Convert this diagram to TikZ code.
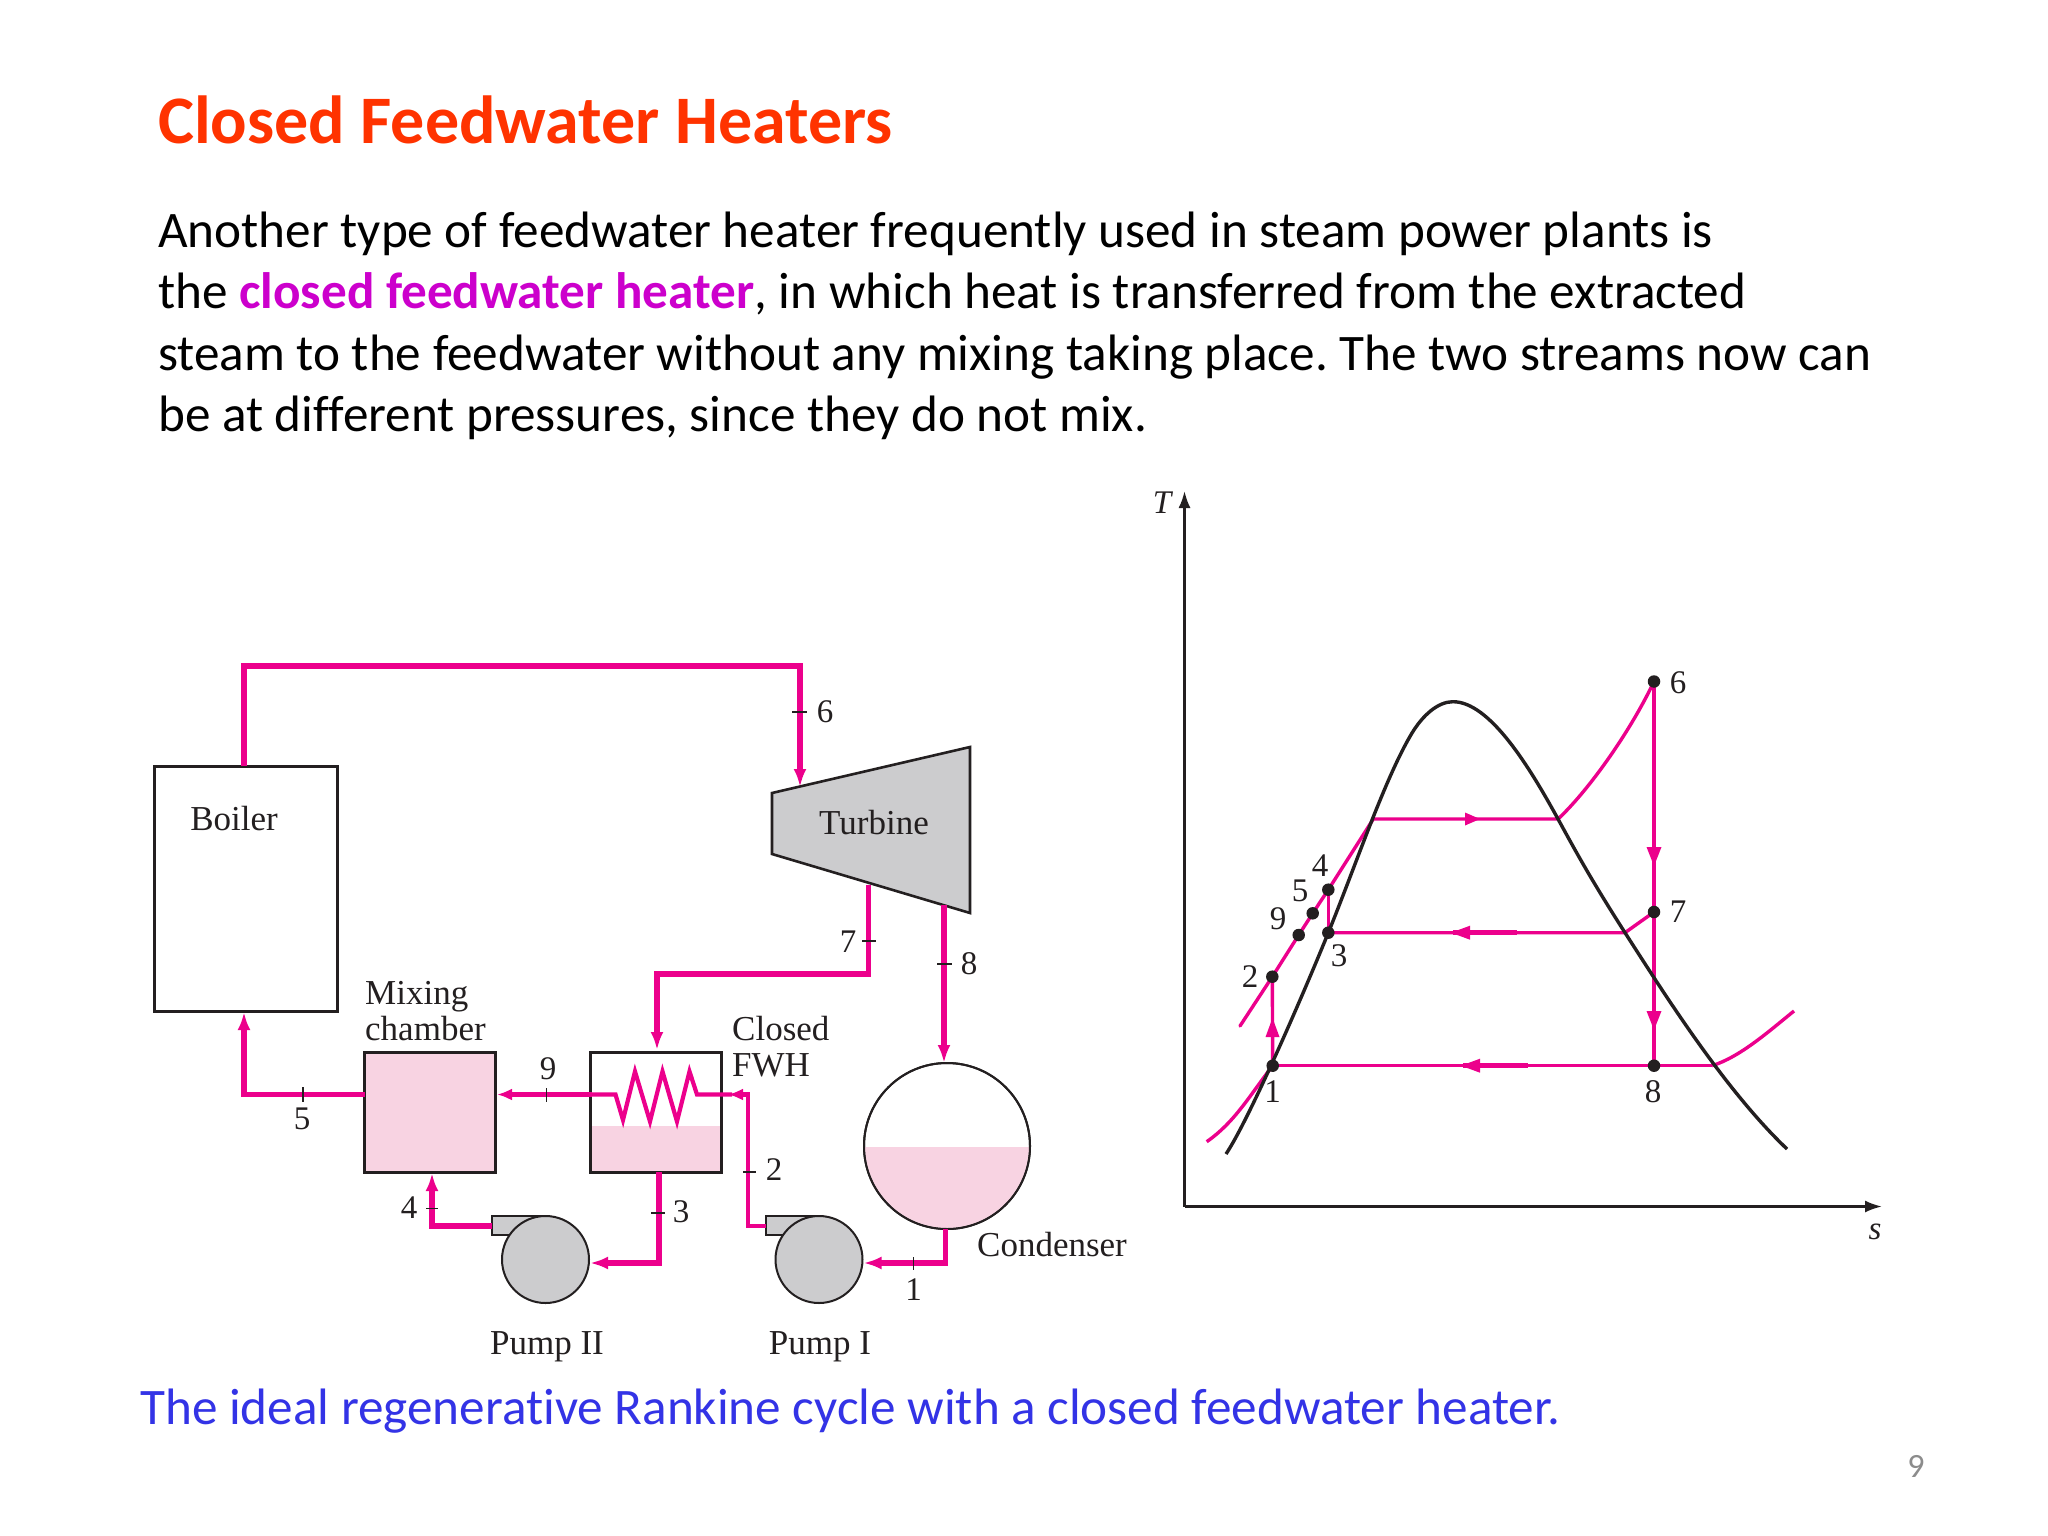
\documentclass[tikz,border=0pt]{standalone}
\usepackage{fontspec}
\usetikzlibrary{arrows.meta}
\newfontfamily\bodyfont[Ligatures=NoCommon]{Carlito}
\newfontfamily\figfont{Liberation Serif}
\definecolor{pipe}{HTML}{EC008C}
\definecolor{liquid}{HTML}{F8D3E2}
\definecolor{metal}{HTML}{CCCCCE}
\definecolor{ink}{HTML}{231F20}
\definecolor{titlered}{HTML}{FF3300}
\definecolor{hilite}{HTML}{CC00CC}
\definecolor{capblue}{HTML}{3333E6}
\definecolor{pagegray}{HTML}{8C8C8C}
\tikzset{
  x=1pt,y=-1pt,
  titletext/.style={anchor=base west,inner sep=0,font=\bodyfont\bfseries\fontsize{68}{80}\selectfont,text=titlered},
  bodytext/.style={anchor=base west,inner sep=0,font=\bodyfont\frenchspacing\fontsize{51.2}{60}\selectfont,text=black},
  captext/.style={anchor=base west,inner sep=0,font=\bodyfont\frenchspacing\fontsize{51.2}{60}\selectfont,text=capblue},
  lab/.style={inner sep=0,font=\figfont\fontsize{35}{36.5}\selectfont,text=ink,align=left},
  num/.style={inner sep=0,font=\figfont\fontsize{33}{38}\selectfont,text=ink},
  axlab/.style={inner sep=0,font=\figfont\itshape\fontsize{33}{38}\selectfont,text=ink},
  box/.style={draw=ink,line width=3pt,anchor=north west,inner sep=0,outer sep=0},
  pipeA/.style={draw=pipe,line width=5.5pt,line join=miter},
  pipeB/.style={draw=pipe,line width=4.2pt,line join=miter},
  flowA/.style={pipeA,-{Latex[length=18pt,width=13pt]}},
  flowB/.style={pipeB,-{Latex[length=15pt,width=12pt]}},
  tick/.style={draw=ink,line width=1.3pt},
  ts/.style={draw=pipe,line width=3.4pt,line join=round},
  tsthick/.style={draw=pipe,line width=4.8pt},
  head/.style={draw=none,fill=pipe},
  dome/.style={draw=ink,line width=3.4pt},
  axis/.style={draw=ink,line width=2.4pt,-{Latex[length=17pt,width=12pt]}},
  state/.style={circle,fill=ink,inner sep=0,minimum size=12.5pt},
}
\begin{document}
\begin{tikzpicture}
\useasboundingbox (0,0) rectangle (2048,1536);
\fill[white] (0,0) rectangle (2048,1536);

% ---- texts of the slide
\node[titletext] (title) at (158,144) {Closed Feedwater Heaters};
\node[bodytext] (l1) at (158,247) {Another type of feedwater heater frequently used in steam power plants is};
\node[bodytext] (l2) at (158,308) {the {\bfseries\color{hilite}closed feedwater heater}, in which heat is transferred from the extracted};
\node[bodytext] (l3) at (158,370) {steam to the feedwater without any mixing taking place. The two streams now can};
\node[bodytext] (l4) at (158,431) {be at different pressures, since they do not mix.};
\node[captext] (cap) at (140,1424) {The ideal regenerative Rankine cycle with a closed feedwater heater.};
\node[inner sep=0,font=\bodyfont\fontsize{34}{38}\selectfont,text=pagegray] (page) at (1916,1466) {9};

% ---- schematic: equipment
\node[box,minimum width=183pt,minimum height=245pt] (boiler) at (154,766) {};
\node[lab] (boilerlab) at (234,819) {Boiler};

\coordinate (tA) at (772,793); \coordinate (tB) at (970,747);
\coordinate (tC) at (970,913); \coordinate (tD) at (772,854);
\fill[metal] (tA) -- (tB) -- (tC) -- (tD) -- cycle;
\draw[ink,line width=2.6pt,line join=miter] (tA) -- (tB) -- (tC) -- (tD) -- cycle;
\node[lab] (turbinelab) at (874,823) {Turbine};

\node[box,fill=liquid,minimum width=131pt,minimum height=120pt] (mix) at (364.5,1052) {};
\node[lab,anchor=north west] (mixlab) at (365,981) {Mixing\\chamber};

\fill[liquid] (590,1126) rectangle (721,1172);
\node[box,minimum width=131pt,minimum height=120pt] (fwh) at (590,1052) {};
\node[lab,anchor=north west] (fwhlab) at (732,1016) {Closed\\FWH};

\node[circle,draw=ink,line width=2pt,minimum size=166pt,inner sep=0] (cond) at (947,1146) {};
\begin{scope}
  \clip (cond.center) circle (82pt);
  \fill[liquid] (860,1147) rectangle (1035,1235);
\end{scope}
\draw[ink,line width=2pt] (cond.center) circle (83pt);
\node[lab] (condlab) at (1052,1245) {Condenser};

\node[box,fill=metal,line width=2.4pt,minimum width=54pt,minimum height=19pt] (tab2) at (492,1216) {};
\node[box,fill=metal,line width=2.4pt,minimum width=54pt,minimum height=19pt] (tab1) at (766,1216) {};
\node[circle,draw=ink,fill=metal,line width=2pt,minimum size=87pt,inner sep=0] (pump2) at (545.5,1259.5) {};
\node[circle,draw=ink,fill=metal,line width=2pt,minimum size=87pt,inner sep=0] (pump1) at (819,1259.5) {};
\node[lab] (p2lab) at (547,1347) {Pump II};
\node[lab] (p1lab) at (820,1347) {Pump I};

% ---- schematic: pipes
\draw[flowA] (244,766) -- (244,666) -- (800,666) -- (800,787);
\draw[flowA] (868.5,885) -- (868.5,974) -- (657,974) -- (657,1050);
\draw[flowA] (944,905) -- (944,1063);
\draw[flowA] (945.5,1229) -- (945.5,1263) -- (pump1.east |- 945,1263);
\draw[flowA] (659,1172) -- (659,1263) -- (pump2.east |- 659,1263);
\draw[flowA] (tab2.west |- 0,1226) -- (432,1226) -- (432,1173);
\draw[flowA] (mix.west |- 0,1094.5) -- (244,1094.5) -- (244,1012);
\draw[flowB] (tab1.west |- 0,1226) -- (748,1226) -- (748,1094.5) -- (728,1094.5);
\draw[pipeB] (732,1094.5) -- (697,1094.5) -- (689.5,1071.5) -- (677,1121.5) -- (662.5,1071.5) -- (650,1121.5) -- (635,1071.5) -- (623,1120) -- (615.5,1094.5) -- (fwh.west |- 0,1094.5);
\draw[flowB] (592,1094.5) -- (497,1094.5);

% ---- schematic: state ticks and labels
\draw[tick] (792,712) -- (807,712);  \node[num] (n6) at (825,712) {6};
\draw[tick] (862,941) -- (876,941);  \node[num] (n7) at (848,942) {7};
\draw[tick] (937,964) -- (952,964);  \node[num] (n8) at (969,964) {8};
\draw[tick] (546.5,1088) -- (546.5,1102); \node[num] (n9) at (548,1069) {9};
\draw[tick] (303,1087) -- (303,1102); \node[num] (n5) at (302,1119) {5};
\draw[tick] (426,1208.5) -- (438,1208.5); \node[num] (n4) at (409,1208) {4};
\draw[tick] (651,1213) -- (665,1213); \node[num] (n3) at (681,1212) {3};
\draw[tick] (743,1172) -- (756,1172); \node[num] (n2) at (774,1170) {2};
\draw[tick] (913.5,1257) -- (913.5,1270); \node[num] (n1) at (913.5,1290) {1};

% ---- T-s diagram: axes
\coordinate (orig) at (1184.5,1206.5);
\coordinate (ytop) at (1184.5,491);
\coordinate (xend) at (1882,1206.5);
\draw[axis] (orig) -- (ytop);
\draw[axis] (orig) -- (xend);
\node[axlab] (Tlab) at (1162,503) {T};
\node[axlab] (slab) at (1875,1232) {s};

% ---- T-s diagram: states
\coordinate (s1) at (1272.7,1065.7);
\coordinate (s2) at (1272.3,976.7);
\coordinate (s3) at (1328.3,932.7);
\coordinate (s4) at (1328.3,889.7);
\coordinate (s5) at (1312.7,913.3);
\coordinate (s6) at (1654,681.5);
\coordinate (s7) at (1654,912);
\coordinate (s8) at (1654,1065.7);
\coordinate (s9) at (1298.7,935);
\coordinate (fl) at (1373.3,819);
\coordinate (fg) at (1558,819);
\coordinate (fl7) at (1625,932.7);
\coordinate (fg8) at (1712,1065.7);

% ---- T-s diagram: cycle
\draw[ts,line cap=round] (1240,1026) -- (s2) -- (s9) -- (s5) -- (s4) -- (fl) -- (fg);
\draw[ts] (fg) .. controls (1586,793) and (1628,736) .. (s6);
\draw[tsthick] (s6) -- (s8);
\draw[ts] (s7) -- (fl7) -- (s3);
\draw[tsthick] (1453,932.7) -- (1517,932.7);
\draw[ts] (fg8) -- (s1);
\draw[tsthick] (1463,1065.7) -- (1528,1065.7);
\draw[ts] (fg8) .. controls (1740,1057) and (1768,1032) .. (1794,1011);
\draw[ts] (s1) .. controls (1250,1095) and (1235,1122) .. (1206.7,1141.7);
\draw[ts] (s1) -- (s2);
\draw[ts] (s3) -- (s4);
\fill[head] (1480,819) -- (1465,812.5) -- (1465,825.5) -- cycle;
\fill[head] (1451,932.7) -- (1470,925.7) -- (1470,939.7) -- cycle;
\fill[head] (1461,1065.7) -- (1480,1058.7) -- (1480,1072.7) -- cycle;
\fill[head] (1654,866) -- (1646.5,847) -- (1661.5,847) -- cycle;
\fill[head] (1654,1030) -- (1646.5,1011) -- (1661.5,1011) -- cycle;
\fill[head] (1272.5,1018) -- (1265.5,1037) -- (1279.5,1037) -- cycle;

% ---- T-s diagram: saturation dome
\coordinate (domeshoulder) at (1412,733);
\coordinate (domepeak) at (1453,701.7);
\draw[dome] (1226,1154) .. controls (1250,1118) and (1305,990) .. (s3)
  .. controls (1357,862) and (1385,778) .. (domeshoulder)
  .. controls (1423,715) and (1438,701.7) .. (domepeak)
  .. controls (1490,701.7) and (1530,768) .. (fg)
  .. controls (1575,850) and (1590,878) .. (fl7)
  .. controls (1665,995) and (1725,1090) .. (1787,1149);

% ---- T-s diagram: state dots and labels
\node[state] (d1) at (s1) {};
\node[state] (d2) at (s2) {};
\node[state] (d3) at (s3) {};
\node[state] (d4) at (s4) {};
\node[state] (d5) at (s5) {};
\node[state] (d6) at (s6) {};
\node[state] (d7) at (s7) {};
\node[state] (d8) at (s8) {};
\node[state] (d9) at (s9) {};
\node[num] (t1) at (1272.7,1092) {1};
\node[num] (t2) at (1250,977) {2};
\node[num] (t3) at (1339,956) {3};
\node[num] (t4) at (1320,866) {4};
\node[num] (t5) at (1300,891) {5};
\node[num] (t6) at (1678,683) {6};
\node[num] (t7) at (1678,912) {7};
\node[num] (t8) at (1653,1092) {8};
\node[num] (t9) at (1278,919) {9};
\end{tikzpicture}
\end{document}
